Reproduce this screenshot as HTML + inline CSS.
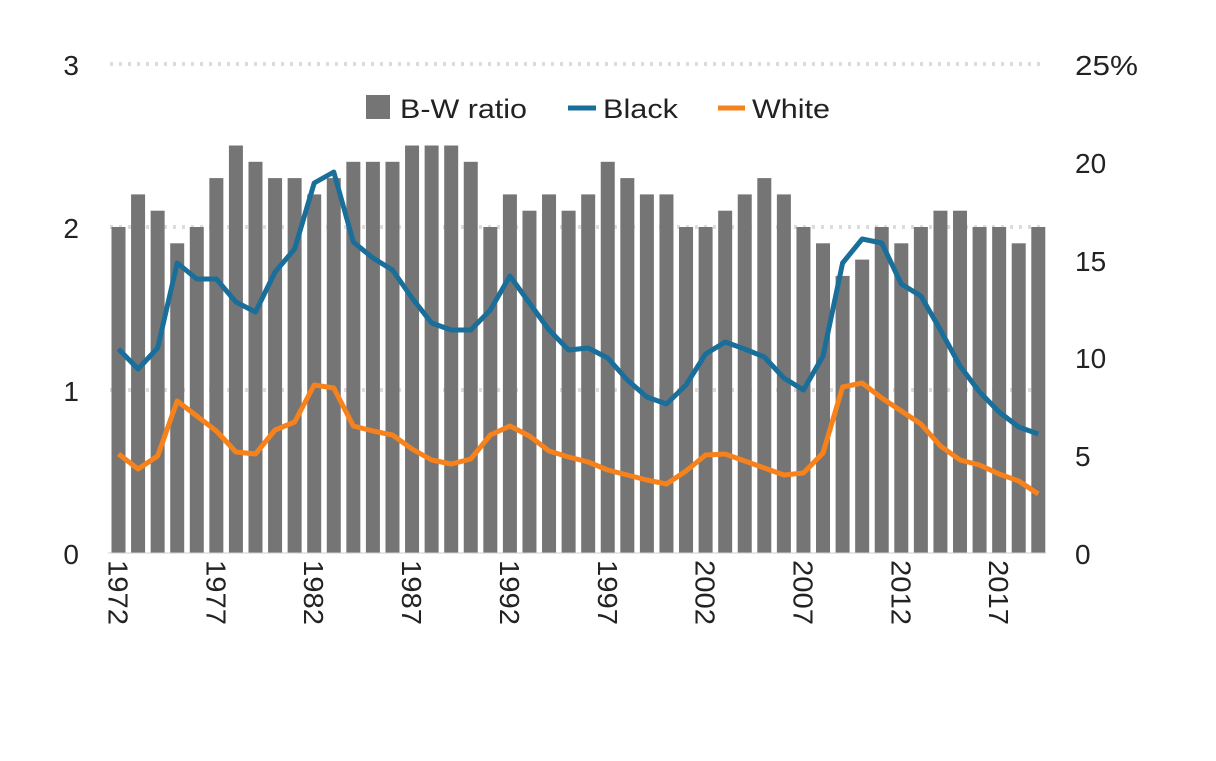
<!DOCTYPE html>
<html><head><meta charset="utf-8"><style>
html,body{margin:0;padding:0;background:#fff;}
svg{display:block;font-family:"Liberation Sans",sans-serif;}
</style></head><body>
<svg id="c" width="1216" height="761" xmlns="http://www.w3.org/2000/svg">
<g stroke="#dcdcdc" stroke-width="4" stroke-dasharray="3,6">
<line x1="110" y1="64" x2="1046" y2="64"/>
<line x1="110" y1="227" x2="1046" y2="227"/>
<line x1="110" y1="390" x2="1046" y2="390"/>
</g>
<g id="bars" fill="#757575"></g>
<line x1="108" y1="553" x2="1046" y2="553" stroke="#cfcfcf" stroke-width="1"/>
<polyline id="bl" fill="none" stroke="#1a6e9a" stroke-width="5" stroke-linejoin="round"/>
<polyline id="wh" fill="none" stroke="#f7821b" stroke-width="5" stroke-linejoin="round"/>
<g font-size="28" fill="#222">
<text x="79" y="75" text-anchor="end">3</text>
<text x="79" y="238" text-anchor="end">2</text>
<text x="79" y="401" text-anchor="end">1</text>
<text x="79" y="564" text-anchor="end">0</text>
<text x="1075" y="75" textLength="63" lengthAdjust="spacingAndGlyphs">25%</text>
<text x="1075" y="173">20</text>
<text x="1075" y="271">15</text>
<text x="1075" y="368">10</text>
<text x="1075" y="466">5</text>
<text x="1075" y="564">0</text>
</g>
<g id="xl" font-size="28" fill="#222"></g>
<g font-size="27" fill="#222">
<rect x="366" y="95" width="24" height="24" fill="#757575"/>
<text x="400" y="118" textLength="127" lengthAdjust="spacingAndGlyphs">B-W ratio</text>
<line x1="568" y1="108" x2="596" y2="108" stroke="#1a6e9a" stroke-width="5"/>
<text x="603" y="118" textLength="75" lengthAdjust="spacingAndGlyphs">Black</text>
<line x1="718" y1="108" x2="745" y2="108" stroke="#f7821b" stroke-width="5"/>
<text x="752" y="118" textLength="78" lengthAdjust="spacingAndGlyphs">White</text>
</g>
</svg>
<script>
var ratio=[2.0,2.2,2.1,1.9,2.0,2.3,2.5,2.4,2.3,2.3,2.2,2.3,2.4,2.4,2.4,2.5,2.5,2.5,2.4,2.0,2.2,2.1,2.2,2.1,2.2,2.4,2.3,2.2,2.2,2.0,2.0,2.1,2.2,2.3,2.2,2.0,1.9,1.7,1.8,2.0,1.9,2.0,2.1,2.1,2.0,2.0,1.9,2.0];
var bl=[349,369,348,263,279,279,302,312,272,249,183,172,242,258,270,298,323,330,330,310,276,303,330,350,348,358,380,397,404,385,354,342,349,357,378,390,356,263,239,243,284,296,330,366,392,412,427,434];
var wh=[454,469,456,401,416,431,452,454,430,422,385,388,426,431,435,449,460,464,459,435,426,436,451,457,462,470,475,480,484,471,455,454,461,468,475,473,453,387,383,398,411,424,446,460,465,474,481,494];
var ns="http://www.w3.org/2000/svg",g=document.getElementById('bars'),xl=document.getElementById('xl');
function X(i){return 118.5+i*19.57;}
var pb=[],pw=[];
for(var i=0;i<48;i++){
 var h=ratio[i]*163,r=document.createElementNS(ns,'rect');
 r.setAttribute('x',X(i)-7);r.setAttribute('y',553-h);r.setAttribute('width',14);r.setAttribute('height',h);g.appendChild(r);
 pb.push(X(i)+','+bl[i]);pw.push(X(i)+','+wh[i]);
 if(i%5==0){var t=document.createElementNS(ns,'text');t.textContent=1972+i;
  t.setAttribute('textLength','65');t.setAttribute('lengthAdjust','spacingAndGlyphs');
  t.setAttribute('transform','translate('+(X(i)-10)+',560) rotate(90)');xl.appendChild(t);}
}
document.getElementById('bl').setAttribute('points',pb.join(' '));
document.getElementById('wh').setAttribute('points',pw.join(' '));
</script>
</body></html>
